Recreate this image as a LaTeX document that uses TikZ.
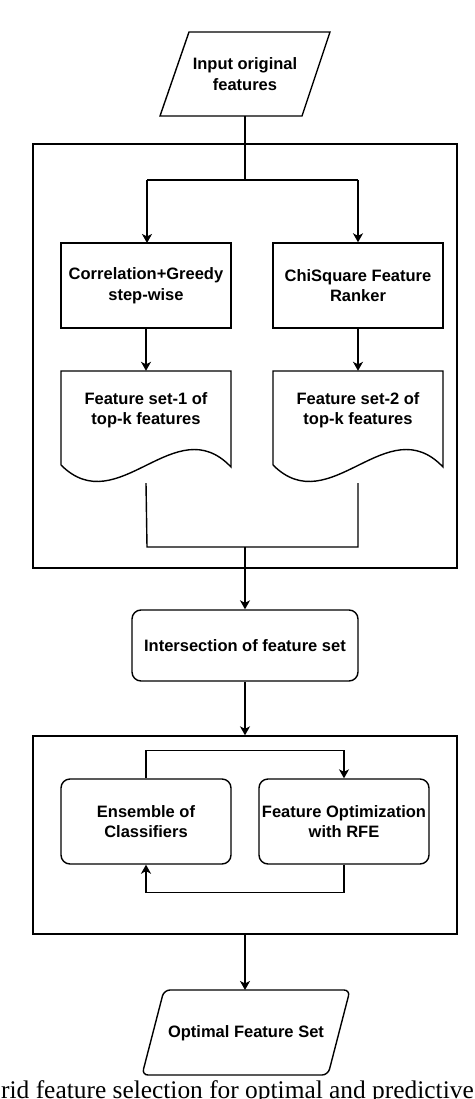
\documentclass[tikz,border=0pt]{standalone}
\usepackage{fontspec}
\setmainfont{Liberation Serif}
\newfontfamily\boxfont{Liberation Sans}
\usetikzlibrary{arrows.meta}
\tikzset{
  line/.style={line width=1.4pt, black},
  arr/.style={line, -{Stealth[length=9pt,width=10pt,inset=2.5pt]}},
  lbl/.style={font=\boxfont\bfseries\fontsize{16.5}{20.5}\selectfont, align=center, inner sep=0pt},
  sqbox/.style={line, draw, rectangle, minimum width=170pt, minimum height=85pt, inner sep=0pt},
  rbox/.style={line, draw, rectangle, rounded corners=9pt, inner sep=0pt},
  ghost/.style={rectangle, inner sep=0pt, draw=none},
}
\begin{document}
\begin{tikzpicture}[x=1pt,y=-1pt]
\useasboundingbox (0,0) rectangle (474,1099);
% input parallelogram
\node[ghost, minimum width=170pt, minimum height=84pt] (in) at (245,74) {};
\draw[line] (189,32) -- (330,32) -- (302,116) -- (160,116) -- cycle;
\node[lbl] (intext) at (245,74) {Input original\\features};
% outer frame 1
\node[ghost, draw, line, minimum width=424pt, minimum height=424pt] (outer1) at (245,356) {};
% split
\coordinate (split) at (245,180);
\coordinate (splitL) at (147,180);
\coordinate (splitR) at (358,180);
% boxes
\node[sqbox, lbl, line, draw] (corr) at (146,285.5) {Correlation+Greedy\\step-wise};
\node[sqbox, lbl, line, draw] (chi) at (358,285.5) {ChiSquare Feature\\Ranker};
% documents
\node[ghost, minimum width=170pt, minimum height=112pt] (doc1) at (146,427) {};
\node[ghost, minimum width=170pt, minimum height=112pt] (doc2) at (358,427) {};
\draw[line] (61,465) -- (61,371) -- (231,371) -- (231,467)
  .. controls (175,408) and (118,522) .. (61,465);
\draw[line] (273,465) -- (273,371) -- (443,371) -- (443,467)
  .. controls (387,408) and (330,522) .. (273,465);
\node[lbl] (doc1t) at (146,410) {Feature set-1 of\\top-k features};
\node[lbl] (doc2t) at (358,410) {Feature set-2 of\\top-k features};
% join
\coordinate (joinL) at (147,547);
\coordinate (joinR) at (358,547);
\coordinate (join) at (245,547);
% intersection
\node[rbox, lbl, minimum width=226pt, minimum height=71pt] (inter) at (245,645.5) {Intersection of feature set};
% outer frame 2
\node[ghost, draw, line, minimum width=424pt, minimum height=198pt] (outer2) at (245,835) {};
% ensemble / optimization
\node[rbox, lbl, minimum width=170pt, minimum height=85pt] (ens) at (146,821.5) {Ensemble of\\Classifiers};
\node[rbox, lbl, minimum width=170pt, minimum height=85pt] (opt) at (344,821.5) {Feature Optimization\\with RFE};
% optimal output
\node[ghost, minimum width=208pt, minimum height=85pt] (out) at (246,1032.5) {};
\draw[line, rounded corners=6pt] (164,990) -- (350,990) -- (328,1075) -- (142,1075) -- cycle;
\node[lbl] (outtext) at (246,1033) {Optimal Feature Set};
% caption fragment (cut at the bottom edge as in the reference)
\node[anchor=base west, inner sep=0pt, font=\fontsize{25.4}{30}\selectfont] (cap) at (1,1098) {rid feature selection for optimal and predictive};
% connectors
\draw[line] (in.south) -- (split);
\draw[arr] (splitL) -- (147,243);
\draw[arr] (splitR) -- (chi.north);
\draw[line] (splitL) -- (splitR);
\draw[arr] (corr.south) -- (doc1.north);
\draw[arr] (chi.south) -- (doc2.north);
\draw[line] (doc1.south) -- (joinL) -- (joinR) -- (doc2.south);
\draw[arr] (join) -- (inter.north);
\draw[arr] (inter.south) -- (outer2.north);
\draw[arr] (ens.north) -- ++(0,-28) -| (opt.north);
\draw[arr] (opt.south) -- ++(0,28) -| (ens.south);
\draw[arr] (outer2.south) -- (245,990);
\end{tikzpicture}
\end{document}
